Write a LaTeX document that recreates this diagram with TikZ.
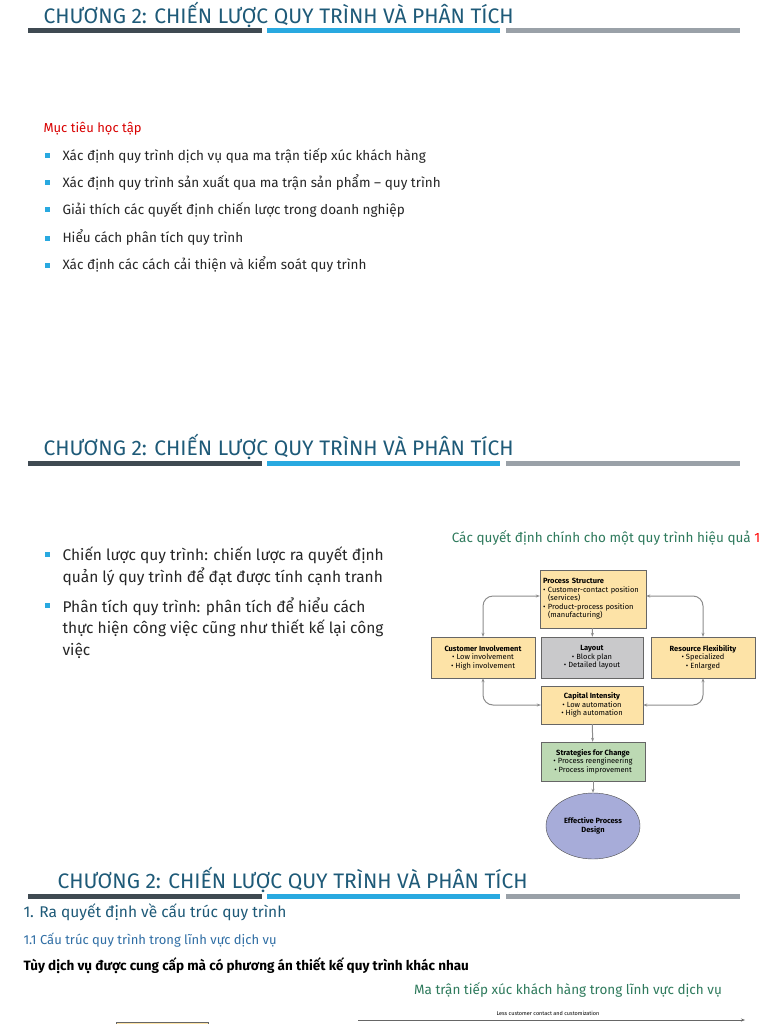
\documentclass[tikz,border=0pt]{standalone}
\usepackage{fontspec}
\setmainfont{Fira Sans}
\usetikzlibrary{arrows.meta,shapes.geometric}
\definecolor{ttl}{HTML}{1E5A78}
\definecolor{barA}{HTML}{3F4A52}
\definecolor{barB}{HTML}{29A9E0}
\definecolor{barC}{HTML}{9AA1A8}
\definecolor{grn}{HTML}{2E7A5C}
\definecolor{bx}{HTML}{FDE3A7}
\definecolor{bxg}{HTML}{C9C9CB}
\definecolor{bxgr}{HTML}{BCD9B3}
\definecolor{ell}{HTML}{A7ACD9}
\definecolor{blu}{HTML}{2E6DA4}
\begin{document}
\begin{tikzpicture}[x=1pt,y=-1pt,
  title/.style={anchor=west,text=ttl,font=\fontsize{21}{23}\selectfont},
  bul/.style={anchor=west,font=\fontsize{13.5}{15}\selectfont,text=black!85},
  sq/.style={fill=barB,minimum size=5pt,inner sep=0pt},
  pbox/.style={draw=black!60,fill=bx,font=\fontsize{7.5}{8.5}\selectfont,align=left,inner sep=2pt},
  conn/.style={draw=black!45,line width=1pt,-{Stealth[length=4pt]}},
  conn2/.style={draw=black!45,line width=1pt,{Stealth[length=4pt]}-{Stealth[length=4pt]},rounded corners=10pt}]
\useasboundingbox (0,0) rectangle (768,1024);
\fill[white] (0,0) rectangle (768,1024);
% slide 1
\node[title] (t1) at (40,15) {CHƯƠNG 2: CHIẾN LƯỢC QUY TRÌNH VÀ PHÂN TÍCH};
\foreach \y in {31,463,896}{
 \fill[barA] (28,\y-2.5) rectangle (262,\y+2.5);
 \fill[barB] (267,\y-2.5) rectangle (500,\y+2.5);
 \fill[barC] (506,\y-2.5) rectangle (740,\y+2.5);}
\node[anchor=west,text=red!85!black,font=\fontsize{13}{15}\selectfont] (mt) at (40,129) {Mục tiêu học tập};
\foreach \y/\t [count=\i] in {156/Xác định quy trình dịch vụ qua ma trận tiếp xúc khách hàng,
 183/Xác định quy trình sản xuất qua ma trận sản phẩm – quy trình,
 210/Giải thích các quyết định chiến lược trong doanh nghiệp,
 238/Hiểu cách phân tích quy trình,
 265/Xác định các cách cải thiện và kiểm soát quy trình}{
 \node[sq] (s\i) at (47,\y) {};
 \node[bul] (b\i) at (59,\y) {\t};}
% slide 2
\node[title] (t2) at (40,447) {CHƯƠNG 2: CHIẾN LƯỢC QUY TRÌNH VÀ PHÂN TÍCH};
\node[sq] (q1) at (47,554) {};
\node[bul,anchor=north west,font=\fontsize{15.5}{22}\selectfont,align=left] (c1) at (59,543) {Chiến lược quy trình: chiến lược ra quyết định\\quản lý quy trình để đạt được tính cạnh tranh};
\node[sq] (q2) at (47,605) {};
\node[bul,anchor=north west,font=\fontsize{15.5}{21.5}\selectfont,align=left] (c2) at (59,594) {Phân tích quy trình: phân tích để hiểu cách\\thực hiện công việc cũng như thiết kế lại công\\việc};
\node[text=grn,font=\fontsize{13.5}{15}\selectfont] (dt) at (606,538) {Các quyết định chính cho một quy trình hiệu quả \textcolor{red}{1}};
% diagram
\node[pbox,minimum width=106pt,minimum height=58pt,text width=100pt] (ps) at (593,599) {\textbf{Process Structure}\\• Customer-contact position\\\hspace*{5pt}(services)\\• Product-process position\\\hspace*{5pt}(manufacturing)};
\node[pbox,minimum width=104pt,minimum height=41pt,align=center] (ci) at (483,657.5) {\textbf{Customer Involvement}\\• Low involvement\\• High involvement};
\node[pbox,fill=bxg,minimum width=102pt,minimum height=41pt,align=center] (ly) at (592,657.5) {\textbf{Layout}\\• Block plan\\• Detailed layout};
\node[pbox,minimum width=104pt,minimum height=41pt,align=center] (rf) at (703,657.5) {\textbf{Resource Flexibility}\\• Specialized\\• Enlarged};
\node[pbox,minimum width=102pt,minimum height=38pt,align=center] (cap) at (592,705) {\textbf{Capital Intensity}\\• Low automation\\• High automation};
\node[pbox,fill=bxgr,minimum width=104pt,minimum height=39pt,align=center] (sc) at (593,761.5) {\textbf{Strategies for Change}\\• Process reengineering\\• Process improvement};
\node[ellipse,draw=black!70,fill=ell,minimum width=94pt,minimum height=66pt,font=\fontsize{7.5}{8.5}\selectfont\bfseries,align=center] (ep) at (593,826) {Effective Process\\Design};
\draw[conn] (ps) -- (ly);
\draw[conn] (cap) -- (sc);
\draw[conn] (sc) -- (ep);
\draw[conn2] (ps.west|-0,596) -| (ci.north);
\draw[conn2] (ps.east|-0,596) -| (rf.north);
\draw[conn2] (ci.south) |- (cap.west);
\draw[conn2] (rf.south) |- (cap.east);
% slide 3
\node[title] (t3) at (54,880) {CHƯƠNG 2: CHIẾN LƯỢC QUY TRÌNH VÀ PHÂN TÍCH};
\node[anchor=west,text=ttl,font=\fontsize{15.5}{17}\selectfont] (h1) at (20,912) {1. Ra quyết định về cấu trúc quy trình};
\node[anchor=west,text=blu,font=\fontsize{13}{15}\selectfont] (h2) at (20,940) {1.1 Cấu trúc quy trình trong lĩnh vực dịch vụ};
\node[anchor=west,font=\fontsize{13.5}{15}\selectfont\bfseries] (h3) at (20,966) {Tùy dịch vụ được cung cấp mà có phương án thiết kế quy trình khác nhau};
\node[text=grn,font=\fontsize{13.5}{15}\selectfont] (mtx) at (568,990) {Ma trận tiếp xúc khách hàng trong lĩnh vực dịch vụ};
\node[font=\fontsize{5.5}{6}\selectfont] (lc) at (548,1013) {Less customer contact and customization};
\coordinate (la) at (358,1020);
\coordinate (lb) at (745,1020);
\draw[black!60,line width=0.8pt,-{Stealth[length=4pt]}] (la) -- (lb);
\draw[black!60,fill=bx] (116,1022) rectangle (208,1030);
\end{tikzpicture}
\end{document}
